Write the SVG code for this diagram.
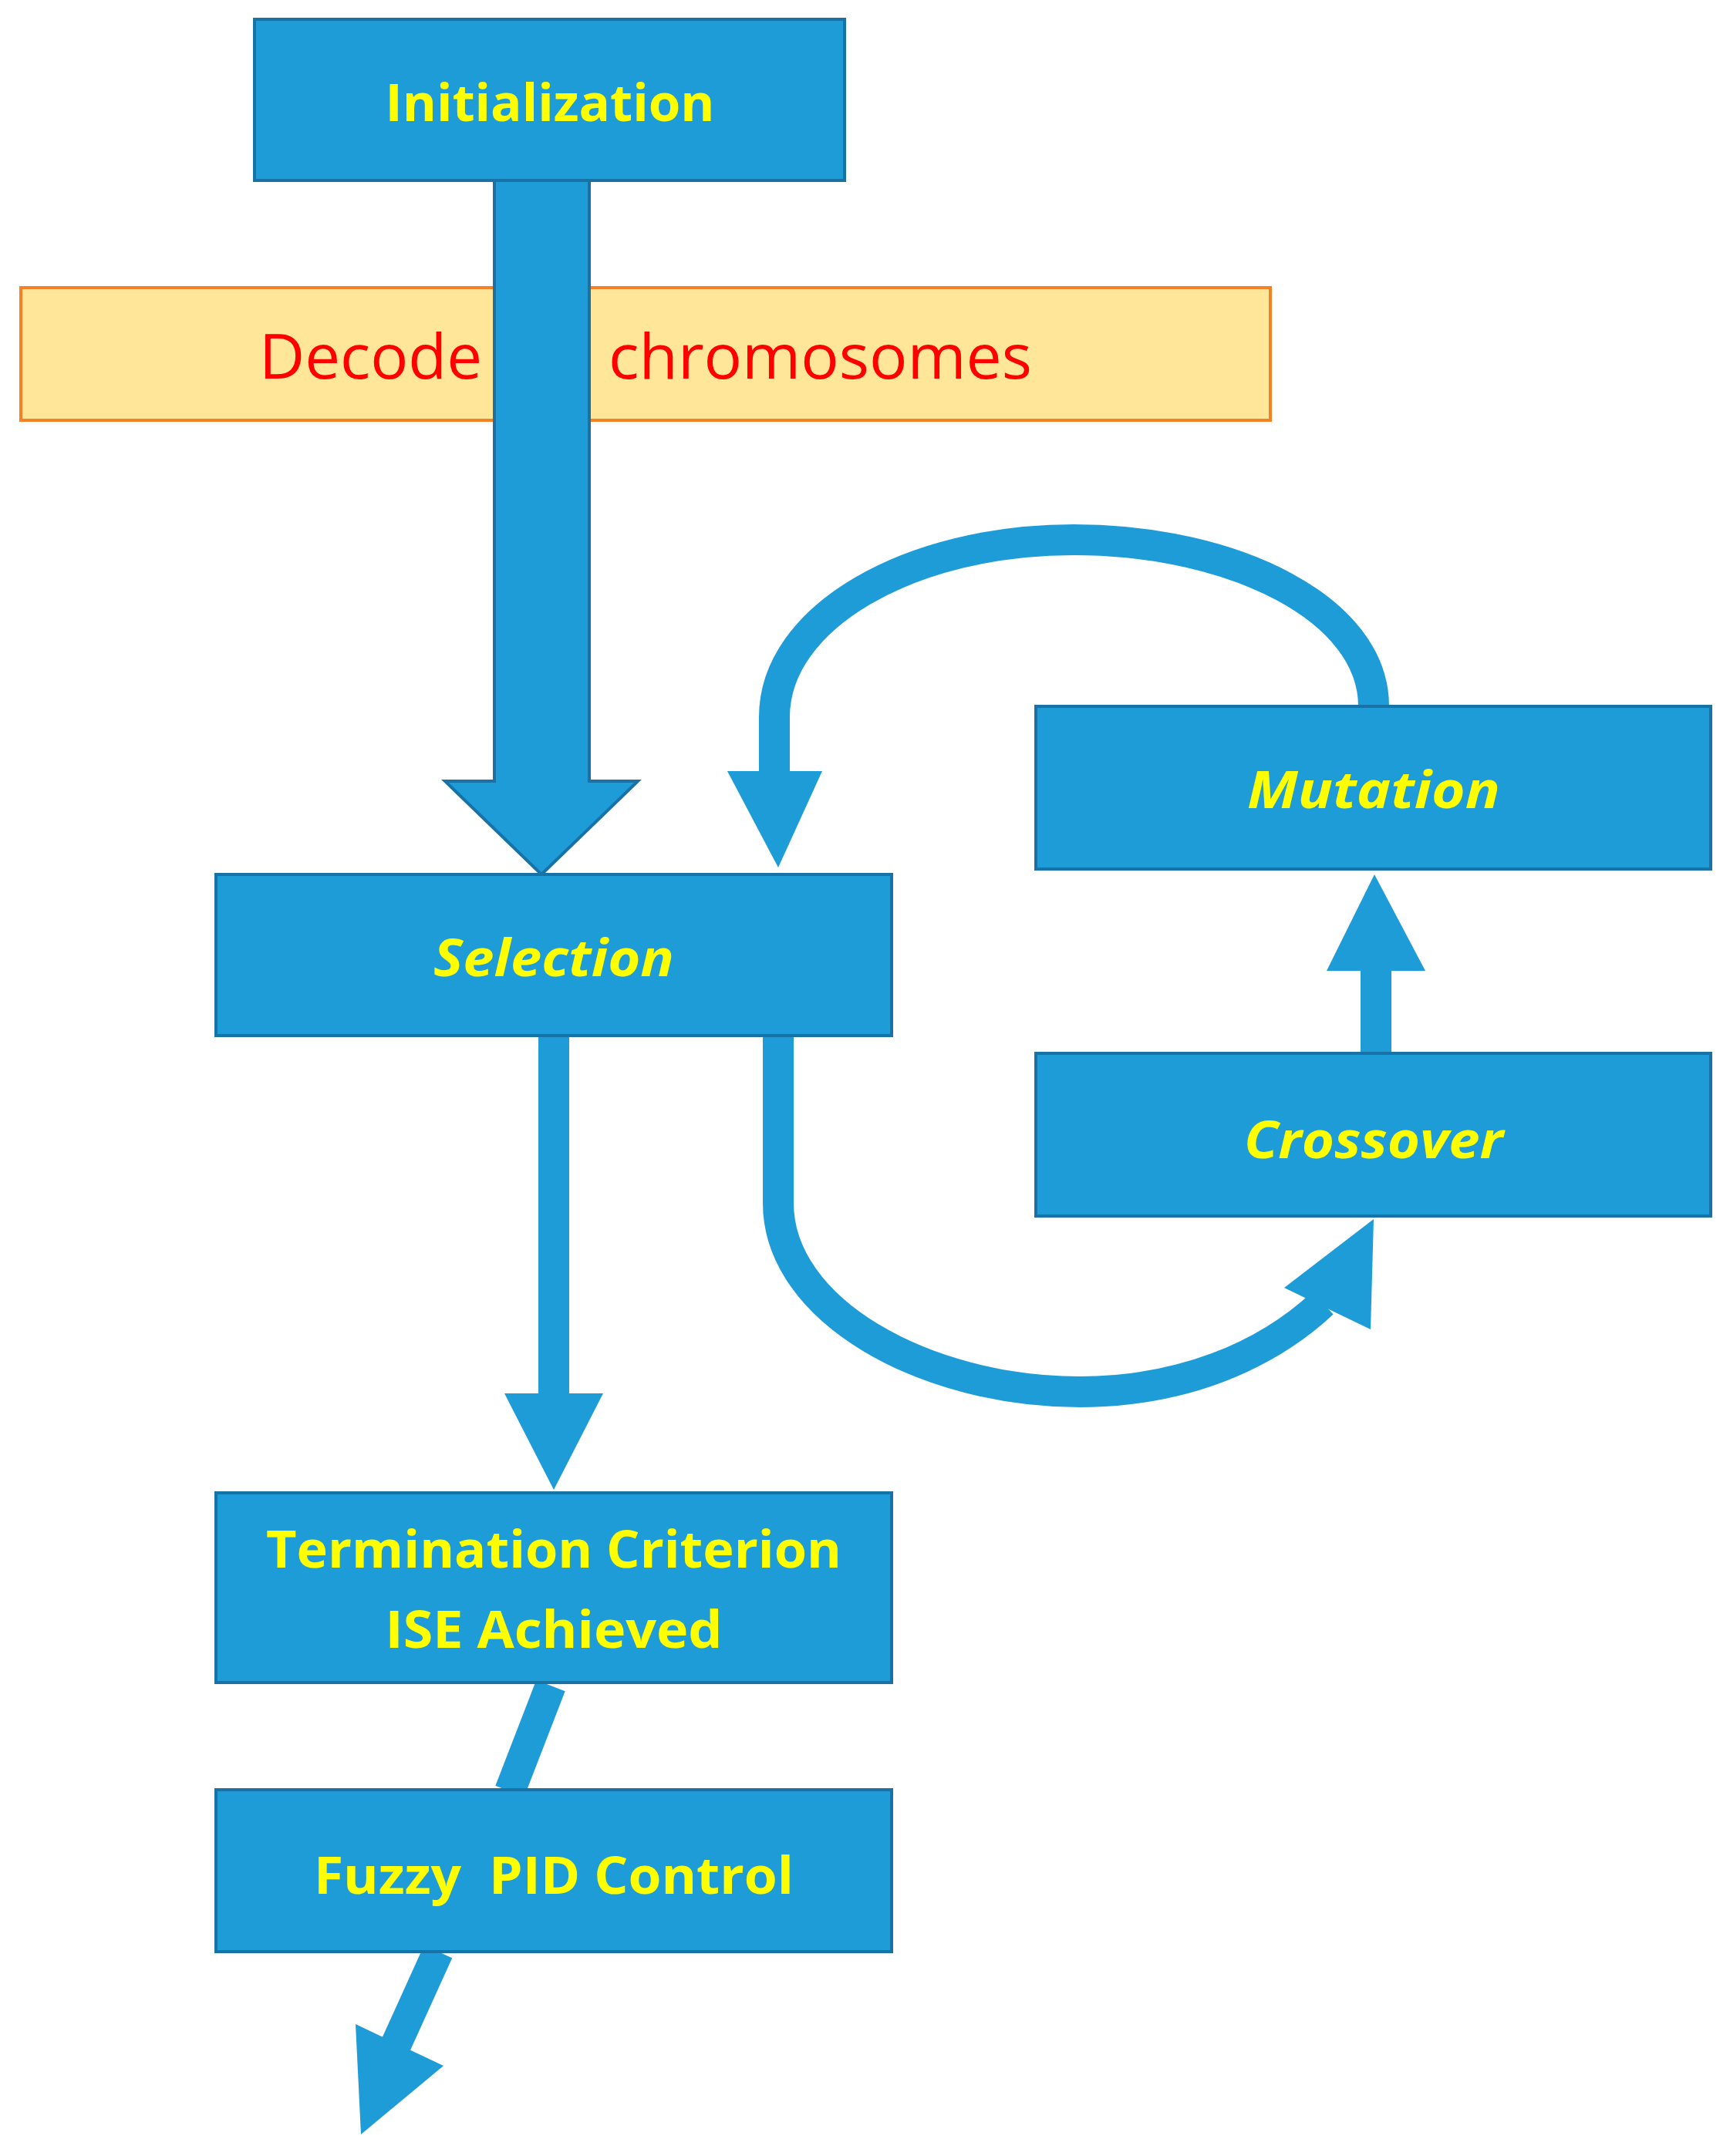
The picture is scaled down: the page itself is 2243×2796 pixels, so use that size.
<svg xmlns="http://www.w3.org/2000/svg" width="2243" height="2796" viewBox="0 0 2243 2796">
<style>
.box{fill:#1E9CD8;stroke:#1872A6;stroke-width:4}
.t{font-family:"Open Sans","Liberation Sans",sans-serif;font-weight:bold;fill:#FFFF00;font-size:66px;text-anchor:middle}
.i{font-style:italic}
.ln{fill:none;stroke:#1E9CD8;stroke-width:40}
.hd{fill:#1E9CD8}
</style>
<rect width="2243" height="2796" fill="#fff"/>
<g id="decode">
<rect x="27" y="373" width="1620" height="172" fill="#FFE699" stroke="#F58025" stroke-width="4"/>
<text x="336" y="491" font-family="Open Sans,Liberation Sans,sans-serif" font-size="80" fill="#FF0000" textLength="289" lengthAdjust="spacingAndGlyphs">Decode</text>
<text x="789" y="491" font-family="Open Sans,Liberation Sans,sans-serif" font-size="80" fill="#FF0000" textLength="549" lengthAdjust="spacingAndGlyphs">chromosomes</text>
</g>
<g id="connectors">
<polygon points="641,234 764,234 764,1013 827,1013 702,1134 577,1013 641,1013" fill="#1E9CD8" stroke="#1872A6" stroke-width="4"/>
<line class="ln" x1="1784" y1="1366" x2="1784" y2="1255"/>
<polygon class="hd" points="1720,1259 1848,1259 1782,1134"/>
<line class="ln" x1="718" y1="1343" x2="718" y2="1810"/>
<polygon class="hd" points="654,1807 782,1807 718,1932"/>
<line class="ln" x1="714" y1="2186" x2="661" y2="2323"/>
<line class="ln" x1="568" y1="2531" x2="505" y2="2670"/>
<polygon class="hd" points="461,2625 575,2679 468,2768"/>
<path class="ln" d="M1781,916 C1781,790 1600,700 1392,700 C1180,700 1004,800 1004,930 L1004,1005"/>
<polygon class="hd" points="943,1000 1066,1000 1009,1125"/>
<path class="ln" d="M1009,1343 L1009,1560 C1009,1700 1200,1805 1400,1805 C1530,1805 1640,1760 1715,1690"/>
<polygon class="hd" points="1665,1670 1777,1724 1781,1581"/>
</g>
<g id="init"><rect class="box" x="330" y="25" width="765" height="209"/><text class="t" x="713" y="157" textLength="427" lengthAdjust="spacingAndGlyphs">Initialization</text></g>
<g id="selection"><rect class="box" x="280" y="1134" width="876" height="209"/><text class="t i" x="718" y="1266" textLength="312" lengthAdjust="spacingAndGlyphs">Selection</text></g>
<g id="mutation"><rect class="box" x="1343" y="916" width="875" height="211"/><text class="t i" x="1781" y="1048" textLength="328" lengthAdjust="spacingAndGlyphs">Mutation</text></g>
<g id="crossover"><rect class="box" x="1343" y="1366" width="875" height="211"/><text class="t i" x="1781" y="1502" textLength="336" lengthAdjust="spacingAndGlyphs">Crossover</text></g>
<g id="termination"><rect class="box" x="280" y="1936" width="876" height="246"/><text class="t" x="718" y="2033" textLength="746" lengthAdjust="spacingAndGlyphs">Termination Criterion</text><text class="t" x="718" y="2137" textLength="437" lengthAdjust="spacingAndGlyphs">ISE Achieved</text></g>
<g id="fuzzy"><rect class="box" x="280" y="2321" width="876" height="210"/><text class="t" x="718" y="2456" textLength="622" lengthAdjust="spacingAndGlyphs" xml:space="preserve">Fuzzy  PID Control</text></g>
</svg>
